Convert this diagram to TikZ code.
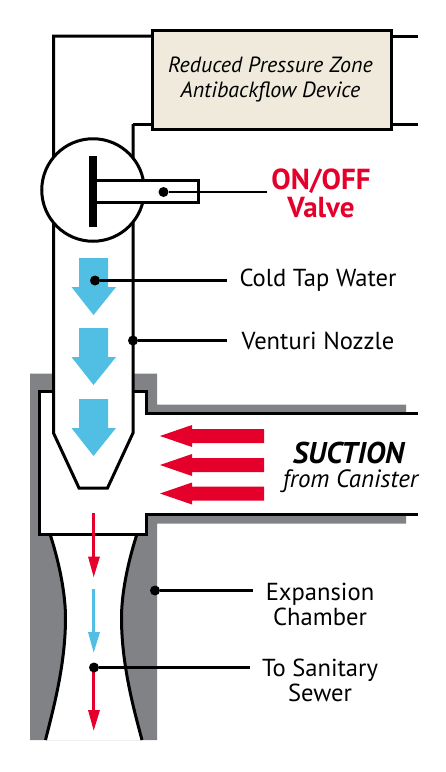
\documentclass[tikz,border=0pt]{standalone}
\usepackage{fontspec}
\setmainfont{PT Sans}
\definecolor{beige}{HTML}{EFEADB}
\definecolor{greyw}{HTML}{808285}
\definecolor{bluew}{HTML}{50BFE3}
\definecolor{redw}{HTML}{E4002B}
\tikzset{
  pipe/.style={draw=black,line width=3pt,line join=miter},
  leader/.style={draw=black,line width=2.4pt},
  dotn/.style={circle,fill=black,inner sep=0pt,minimum size=10pt},
  lab/.style={align=center,inner sep=0pt,font=\fontsize{24.6}{25}\selectfont},
  labi/.style={align=center,inner sep=0pt,font=\fontsize{22}{25}\selectfont\itshape},
  bigarrow/.style={fill=bluew,draw=none},
  redfill/.style={fill=redw,draw=none}
}
\begin{document}
\begin{tikzpicture}[x=1pt,y=-1pt]
\useasboundingbox (0,0) rectangle (445,772);
% grey casing
\fill[greyw] (30,373.5) -- (157,373.5) -- (157,404.5) -- (406,404.5) -- (406,414) -- (146.5,414) -- (146.5,514) -- (406,514) -- (406,523.5) -- (157,523.5) -- (157,740) -- (30,740) -- cycle;
% interior
\fill[white] (39.5,391) -- (146.5,391) -- (146.5,534) -- (39.5,534) -- cycle;
\fill[white] (146,414) rectangle (418,514);
\fill[white] (50,534) .. controls (60,565) and (65.5,595) .. (65.5,618) .. controls (65.5,665) and (53,710) .. (45.5,740) -- (142,740) .. controls (134,710) and (121.5,665) .. (121.5,618) .. controls (121.5,595) and (127,565) .. (137,534) -- cycle;
% chamber walls
\draw[pipe] (50,534) .. controls (60,565) and (65.5,595) .. (65.5,618) .. controls (65.5,665) and (53,710) .. (45.5,740);
\draw[pipe] (137,534) .. controls (127,565) and (121.5,595) .. (121.5,618) .. controls (121.5,665) and (134,710) .. (142,740);
% venturi body
\draw[pipe] (53.5,391) -- (39.5,391) -- (39.5,534) -- (146.5,534) -- (146.5,514) -- (418,514);
\draw[pipe] (133,391) -- (146.5,391) -- (146.5,413.5) -- (418,413.5);
% white inside of nozzle
\fill[white] (53.5,36) -- (133,36) -- (133,433) -- (107.5,488) -- (79,488) -- (53.5,433) -- cycle;
\draw[pipe,line join=miter] (133,124) -- (133,433) -- (107.5,488) -- (79,488) -- (53.5,433) -- (53.5,36) -- (152,36);
\draw[pipe] (152,124) -- (133,124);
% device
\draw[pipe] (391,36) -- (418,36);
\draw[pipe] (391,124) -- (418,124);
\node[pipe,fill=beige,outer sep=0pt,minimum width=239.5pt,minimum height=99.5pt,inner sep=0pt,anchor=north west] (device) at (152,30) {};
\node[labi] (devicetext) at (270.5,79.5) {Reduced Pressure Zone\\Antibackflow Device};
% valve
\node[pipe,circle,fill=white,minimum size=102.5pt,inner sep=0pt] (valve) at (93,190) {};
\draw[pipe,fill=white] (93,180.5) rectangle (198,202);
\fill[black] (88.5,156) rectangle (97,226.5);
% blue arrows
\foreach \n/\t in {a/258,b/328,c/399}{
  \fill[bigarrow] (79,\t) -- (108,\t) -- (108,\t+29) -- (116,\t+29) -- (93.5,\t+57) -- (71.5,\t+29) -- (79,\t+29) -- cycle;
}
% red suction arrows
\foreach \c in {436,465,493.5}{
  \fill[redfill] (264,\c-7) -- (192,\c-7) -- (192,\c-11) -- (160,\c) -- (192,\c+11) -- (192,\c+7) -- (264,\c+7) -- cycle;
}
% vertical thin arrows
\fill[redfill] (92.2,513) rectangle (95.2,558);
\fill[redfill] (88,556.5) -- (100,556.5) -- (93.7,577) -- cycle;
\fill[bluew] (92.2,588.5) rectangle (95.2,633);
\fill[bluew] (88,632) -- (100,632) -- (93.7,652.5) -- cycle;
\fill[redfill] (92.2,667) rectangle (95.2,711);
\fill[redfill] (88,710) -- (100,710) -- (93.7,730.5) -- cycle;
% labels
\node[inner sep=0pt,align=center,text=redw,font=\fontsize{29}{28.5}\selectfont\bfseries] (onoff) at (321,193.5) {ON/OFF\\Valve};
\node[lab] (cold) at (318,280.5) {Cold Tap Water};
\node[lab] (venturi) at (318,340.5) {Venturi Nozzle};
\node[inner sep=0pt,font=\fontsize{30}{28}\selectfont\bfseries\itshape] (suction) at (348.5,452.5) {SUCTION};
\node[labi,font=\fontsize{25}{25}\selectfont\itshape] (canister) at (350.5,481.5) {from Canister};
\node[lab] (expansion) at (320,604) {Expansion\\Chamber};
\node[lab] (sewer) at (320,680) {To Sanitary\\Sewer};
% leaders
\node[dotn] (d1) at (163.5,192) {};
\coordinate (e1) at (267,192);
\draw[leader] (d1) -- (e1);
\node[dotn] (d2) at (95,280.5) {};
\coordinate (e2) at (227,280.5);
\draw[leader] (d2) -- (e2);
\node[dotn] (d3) at (133,340.5) {};
\coordinate (e3) at (227,340.5);
\draw[leader] (d3) -- (e3);
\node[dotn] (d4) at (155,590.5) {};
\coordinate (e4) at (253,590.5);
\draw[leader] (d4) -- (e4);
\node[dotn] (d5) at (94,667.5) {};
\coordinate (e5) at (250,667.5);
\draw[leader] (d5) -- (e5);
\end{tikzpicture}
\end{document}
